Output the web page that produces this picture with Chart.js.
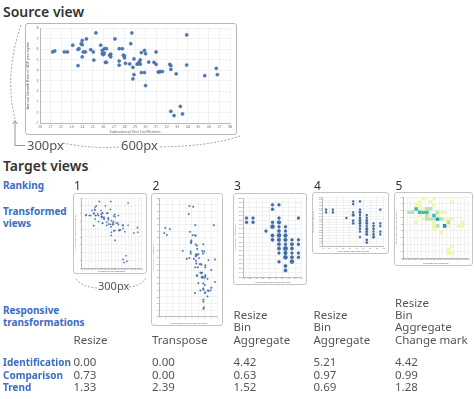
<!DOCTYPE html>
<html>
<head>
<meta charset="utf-8">
<script src="https://cdn.jsdelivr.net/npm/chart.js@4.4.0/dist/chart.umd.min.js"></script>
<style>
  html, body { margin: 0; padding: 0; background: #fff; }
  #fig { position: relative; width: 474px; height: 399px; overflow: hidden; font-family: 'Noto Sans', sans-serif; }
  .t { position: absolute; white-space: nowrap; }
  .title { font-weight: 600; font-size: 14px; color: #333; line-height: 18px; }
  .blue { color: #3c6cc4; font-weight: 700; font-size: 10px; line-height: 12.4px; }
  .gray { color: #555; font-size: 11.5px; line-height: 12.4px; }
  .rank { color: #333; font-size: 12px; line-height: 14px; }
  .box { position: absolute; box-sizing: border-box; border: 1px solid #c4c4c4; border-radius: 3px; background: #fff; }
  .box canvas { position: absolute; left: 0; top: 0; }
  svg { position: absolute; left: 0; top: 0; pointer-events: none; }
</style>
</head>
<body>
<div id="fig">
  <div class="t title" style="left:3px;top:3px">Source view</div>
  <div class="t title" style="left:3px;top:157px">Target views</div>
  <div class="t blue" style="left:3px;top:179px">Ranking</div>
  <div class="t blue" style="left:3px;top:205px">Transformed<br>views</div>
  <div class="t blue" style="left:3px;top:304px">Responsive<br>transformations</div>

  <div class="box" id="box-src" style="left:25px;top:23px;width:212px;height:112px;border-width:1.3px;border-color:#b8b8b8"><canvas id="src" width="210" height="110"></canvas></div>
  <div class="box" style="left:73px;top:193px;width:74px;height:81px"><canvas id="v1" width="72" height="79"></canvas></div>
  <div class="box" style="left:151px;top:193px;width:72px;height:133px"><canvas id="v2" width="70" height="131"></canvas></div>
  <div class="box" style="left:233px;top:193px;width:74px;height:92px"><canvas id="v3" width="72" height="90"></canvas></div>
  <div class="box" style="left:312px;top:192px;width:77px;height:62px"><canvas id="v4" width="75" height="60"></canvas></div>
  <div class="box" style="left:394px;top:192px;width:79px;height:74px"><canvas id="v5" width="77" height="72"></canvas></div>

  <svg width="474" height="399">
    <g fill="none" stroke="#8a8a8a" stroke-width="0.8" stroke-dasharray="2,1.6">
      <path d="M 21 25 Q 4 75 15 119" />
      <path d="M 63 143 Q 92 149 119 147" />
      <path d="M 160 147 Q 212 146 240 136" />
      <path d="M 76 279 Q 82 287 97 288" />
      <path d="M 129 287 Q 141 286 146 278" />
    </g>
    <g fill="none" stroke="#8a8a8a" stroke-width="0.9">
      <path d="M 15 121 L 15 145.5 L 25 145.5" />
      <path d="M 12.6 124 L 15 120.5 L 17.4 124" />
    </g>
  </svg>
  <div class="t" style="left:27px;top:137px;font-size:13px;color:#555;line-height:16px">300px</div>
  <div class="t" style="left:121px;top:137px;font-size:13px;color:#555;line-height:16px">600px</div>
  <div class="t" style="left:98px;top:279px;font-size:11px;color:#555;line-height:14px">300px</div>
</div>

<script>
// --- Data ---
// Source view: subnational Gini coefficient vs annual growth rate of GDP per capita
const SRC_GINI = [
  21.2, 21.4, 22.3, 22.6, 23.1, 23.6, 23.7, 23.9, 24.0, 24.0,
  24.0, 23.6, 24.1, 24.3, 24.4, 24.8, 25.05, 25.1, 25.3, 25.75,
  25.9, 25.9, 26.0, 26.1, 26.1, 26.3, 26.2, 26.3, 26.6, 26.7,
  26.7, 27.1, 27.5, 27.8, 27.5, 27.5, 27.9, 28.0, 28.0, 28.1,
  28.6, 28.7, 28.5, 28.8, 28.9, 28.8, 28.9, 29.2, 29.3, 29.4,
  29.5, 29.5, 29.6, 29.6, 29.9, 29.9, 30.0, 30.0, 30.3, 30.8,
  31.0, 31.0, 31.2, 31.3, 31.4, 31.6, 32.3, 32.4, 32.4, 32.9,
  32.4, 32.7, 33.3, 33.5, 33.9, 33.9, 35.6, 36.7, 36.8
];
const SRC_GROWTH = [
  5.76, 5.86, 5.76, 5.76, 6.4, 6.0, 6.07, 6.55, 6.85, 6.45,
  5.3, 4.46, 5.76, 5.76, 7.0, 5.98, 5.76, 4.99, 7.57, 6.4,
  5.9, 5.6, 5.5, 6.07, 5.65, 6.07, 4.77, 4.77, 5.45, 5.55,
  5.3, 7.0, 6.07, 6.07, 4.9, 4.5, 5.45, 5.4, 5.2, 4.68,
  6.55, 7.57, 4.62, 4.3, 3.6, 3.2, 5.1, 4.6, 4.65, 4.8,
  4.6, 5.0, 5.7, 3.8, 3.8, 5.9, 5.6, 2.56, 4.8, 4.77,
  4.58, 5.76, 3.85, 3.85, 3.9, 3.9, 4.58, 4.46, 4.1, 3.68,
  0.11, -0.29, 0.58, -0.14, 7.38, 4.52, 3.5, 4.2, 3.6
];
const GINI_TICKS = [20, 21, 22, 23, 24, 25, 26, 27, 28, 29, 30, 31, 32, 33, 34, 35, 36, 37, 38];
const GROWTH_TICKS = [-1, 0, 1, 2, 3, 4, 5, 6, 7, 8];

const GINI_TITLE = 'Subnational Gini Coefficients';
const GROWTH_TITLE = 'Annual Growth Rate of GDP per capita';

// Target views table
const RANKS = ['1', '2', '3', '4', '5'];
const TRANSFORMS = [
  ['Resize'],
  ['Transpose'],
  ['Resize', 'Bin', 'Aggregate'],
  ['Resize', 'Bin', 'Aggregate'],
  ['Resize', 'Bin', 'Aggregate', 'Change mark']
];
const SCORE_LABELS = ['Identification', 'Comparison', 'Trend'];
const SCORE_IDENT = [0.00, 0.00, 4.42, 5.21, 4.42];
const SCORE_COMP = [0.73, 0.00, 0.63, 0.97, 0.99];
const SCORE_TREND = [1.33, 2.39, 1.52, 0.69, 1.28];

// --- Style ---
const DOT = '#4d79b6';
const DOT_EDGE = '#3b649e';
const GRID = '#e4e4e4';
const AXIS = '#a0a0a0';
const TICK = '#777';
const HEAT = ['#edf8b1', '#b9e3b5', '#41b6c4', '#1d91c0', '#225ea8', '#0c2c84'];
const COL_X = [73.5, 152, 233.5, 313.5, 395];

Chart.defaults.font.family = "'Noto Sans', sans-serif";
Chart.defaults.animation = false;

// --- Text table ---
const fig = document.getElementById('fig');
function addText(cls, left, top, html) {
  const d = document.createElement('div');
  d.className = 't ' + cls;
  d.style.left = left + 'px';
  d.style.top = top + 'px';
  d.innerHTML = html;
  fig.appendChild(d);
}
RANKS.forEach((r, i) => addText('rank', COL_X[i] + 0.5, 178.5, r));
TRANSFORMS.forEach((lines, i) => addText('gray', COL_X[i], 346.2 - lines.length * 12.4, lines.join('<br>')));
SCORE_LABELS.forEach((lab, j) => addText('blue', 3, 356.3 + j * 12.5, lab));
[SCORE_IDENT, SCORE_COMP, SCORE_TREND].forEach((row, j) => {
  row.forEach((v, i) => addText('gray', COL_X[i], 356 + j * 12.5, v.toFixed(2)));
});

// --- Helpers ---
function binCounts(xs, ys, xStep, yStep) {
  const cells = new Map();
  xs.forEach((x, i) => {
    const bx = Math.floor(x / xStep) * xStep + xStep / 2;
    const by = Math.floor(ys[i] / yStep) * yStep + yStep / 2;
    const key = bx + '|' + by;
    const prev = cells.get(key);
    cells.set(key, { x: bx, y: by, n: prev ? prev.n + 1 : 1 });
  });
  return [...cells.values()];
}

function axis(ticks, title, fit, size, isY, fmt) {
  return {
    type: 'linear',
    min: ticks[0], max: ticks[ticks.length - 1],
    afterBuildTicks: s => { s.ticks = ticks.map(v => ({ value: v })); },
    afterFit: s => { if (isY) s.width = fit; else s.height = fit; },
    grid: { color: GRID, lineWidth: 0.5, drawTicks: false },
    border: { color: AXIS, width: 0.7 },
    ticks: {
      color: TICK, padding: size * 0.4, autoSkip: false, maxRotation: 0,
      font: { size: size }, callback: v => fmt ? fmt(v) : v
    },
    title: { display: true, text: title, color: '#666', font: { size: size * 1.05 }, padding: 0 }
  };
}

function makeChart(id, datasets, xScale, yScale, pad, type) {
  return new Chart(document.getElementById(id), {
    type: type || 'scatter',
    data: { datasets: datasets },
    options: {
      responsive: false,
      layout: { padding: pad },
      plugins: { legend: { display: false }, tooltip: { enabled: false } },
      scales: { x: xScale, y: yScale }
    }
  });
}

const srcPoints = SRC_GINI.map((g, i) => ({ x: g, y: SRC_GROWTH[i] }));
const swapped = SRC_GINI.map((g, i) => ({ x: SRC_GROWTH[i], y: g }));
const f1 = v => v.toFixed(1);

// --- Source view ---
makeChart('src', [{
  data: srcPoints, pointRadius: 1.6, backgroundColor: DOT, borderColor: DOT_EDGE, borderWidth: 0.4
}],
  axis(GINI_TICKS, GINI_TITLE, 11, 3.6, false),
  axis(GROWTH_TICKS.slice(), GROWTH_TITLE, 14, 3.6, true),
  { left: 0, right: 6, top: 2, bottom: 0 });

// --- 1: Resize ---
makeChart('v1', [{
  data: srcPoints, pointRadius: 0.8, backgroundColor: DOT, borderColor: DOT_EDGE, borderWidth: 0.2
}],
  axis(GINI_TICKS, GINI_TITLE, 5, 1.9, false),
  axis(GROWTH_TICKS, GROWTH_TITLE, 7.7, 1.9, true),
  { left: 0, right: 3, top: 2.7, bottom: 0 });

// --- 2: Transpose ---
makeChart('v2', [{
  data: swapped, pointRadius: 0.9, backgroundColor: DOT, borderColor: DOT_EDGE, borderWidth: 0.2
}],
  axis(GROWTH_TICKS, GROWTH_TITLE, 8.3, 2, false),
  axis(GINI_TICKS, GINI_TITLE, 7.7, 2, true),
  { left: 0, right: 3.3, top: 1, bottom: 0 });

// --- 3: Resize + Bin + Aggregate ---
const bins3 = binCounts(SRC_GROWTH, SRC_GINI, 1, 1);
makeChart('v3', [{
  data: bins3.map(b => ({ x: b.x, y: b.y, r: 0.9 + 0.6 * Math.sqrt(b.n) })),
  backgroundColor: '#3f6ea8', borderColor: '#2f5a8f', borderWidth: 0.3
}],
  axis(GROWTH_TICKS, GROWTH_TITLE, 7, 1.9, false, f1),
  axis(GINI_TICKS, GINI_TITLE, 9.3, 1.9, true, f1),
  { left: 0, right: 2, top: 1, bottom: 0 }, 'bubble');

// --- 4: Resize + Bin + Aggregate (wide) ---
const bins4 = binCounts(SRC_GROWTH, SRC_GINI, 1, 1);
makeChart('v4', [{
  data: bins4.map(b => ({ x: b.x, y: b.y, r: 0.75 + 0.3 * Math.sqrt(b.n) })),
  backgroundColor: '#3f6ea8', borderColor: '#2f5a8f', borderWidth: 0.3
}],
  axis(GROWTH_TICKS, GROWTH_TITLE, 6.3, 1.7, false, f1),
  axis(GINI_TICKS, GINI_TITLE, 9.7, 1.5, true, f1),
  { left: 0, right: 3, top: 2, bottom: 0 }, 'bubble');

// --- 5: heatmap (change mark) ---
const bins5 = binCounts(SRC_GINI, SRC_GROWTH, 1, 0.5);
makeChart('v5', [{
  data: bins5.map(b => ({ x: b.x, y: b.y })),
  pointStyle: 'rect', pointRadius: 2.6, borderWidth: 0,
  backgroundColor: bins5.map(b => HEAT[Math.min(b.n, HEAT.length) - 1])
}],
  axis(GINI_TICKS, GINI_TITLE, 7, 1.8, false, f1),
  axis(GROWTH_TICKS, GROWTH_TITLE, 8.7, 1.8, true, f1),
  { left: 0, right: 3, top: 2, bottom: 0 });
</script>
</body>
</html>
